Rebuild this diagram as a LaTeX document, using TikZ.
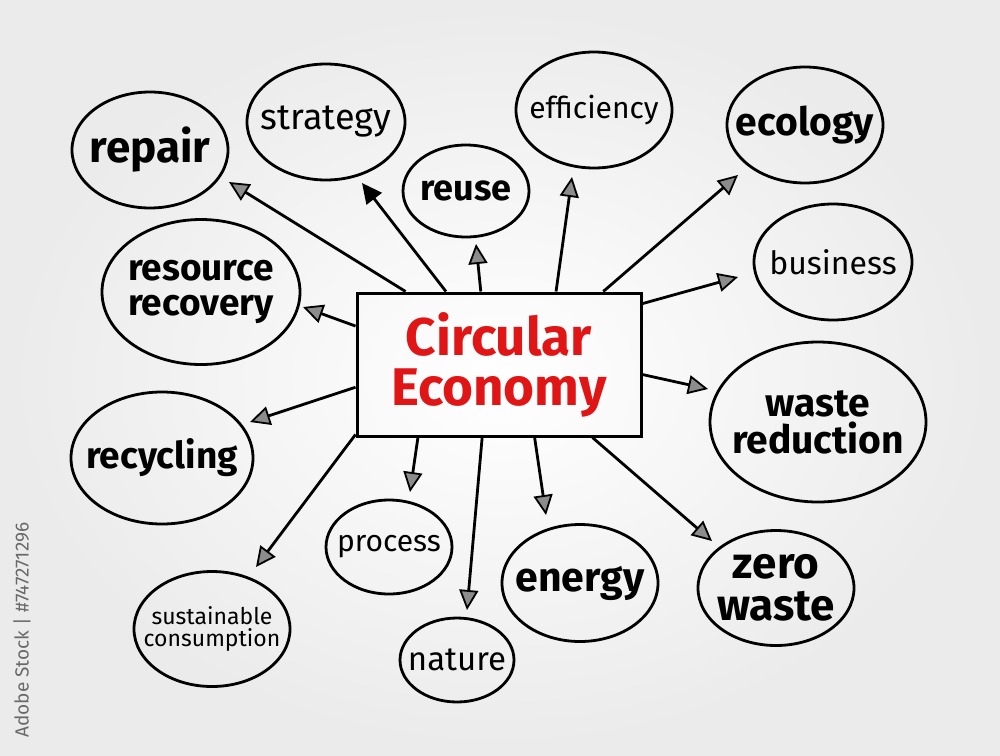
\documentclass[tikz,border=0pt]{standalone}
\usepackage{fontspec}
\setmainfont{Fira Sans}
\usepackage{tikz}
\usetikzlibrary{shapes.geometric,arrows.meta}
\definecolor{ecored}{RGB}{224,22,22}
\definecolor{stockgray}{RGB}{105,105,105}
\tikzset{
  bubble/.style={ellipse, draw, line width=2.8pt, inner sep=-30pt, align=center},
  fleche/.style={line width=2.8pt, -{Triangle[length=20pt, width=19pt, line width=1.8pt, fill=black!45]}},
  flechepleine/.style={line width=2.8pt, -{Triangle[length=20pt, width=19pt]}}
}
\newcommand{\taille}[1]{\fontsize{#1}{0.95\dimexpr #1pt\relax}\selectfont}
\begin{document}
\begin{tikzpicture}[x=1pt,y=-1pt]
\useasboundingbox (0,0) rectangle (1000,755);
\shade [inner color=white, outer color=black!8] (0,0) rectangle (1000,755);

% centre
\node [draw, line width=3pt, minimum width=284pt, minimum height=143pt, inner sep=0pt,
  align=center, text=ecored, font=\bfseries\fontsize{53}{50}\selectfont] (ce) at (499,364.5) {Circular\\Economy};

% bulles
\node [bubble, minimum width=156pt, minimum height=116pt, font=\bfseries\taille{44}] (repair) at (150,150) {repair};
\node [bubble, minimum width=158pt, minimum height=116pt, font=\taille{36}] (strategy) at (326,122) {strategy};
\node [bubble, minimum width=126pt, minimum height=92pt, font=\bfseries\taille{36}] (reuse) at (466,191) {reuse};
\node [bubble, minimum width=156pt, minimum height=116pt, font=\taille{30}] (efficiency) at (594,110) {efficiency};
\node [bubble, minimum width=156pt, minimum height=116pt, font=\bfseries\taille{39}] (ecology) at (805,125) {ecology};
\node [bubble, minimum width=158pt, minimum height=116pt, font=\taille{32}] (business) at (833,262) {business};
\node [bubble, minimum width=198pt, minimum height=145pt, font=\bfseries\taille{37}] (resource) at (201,292) {resource\\recovery};
\node [bubble, minimum width=216pt, minimum height=160pt, font=\bfseries\taille{39}] (wasteRed) at (818,422) {waste\\reduction};
\node [bubble, minimum width=182pt, minimum height=132pt, font=\bfseries\taille{37}] (recycling) at (162,458) {recycling};
\node [bubble, minimum width=156pt, minimum height=115pt, font=\taille{23}] (sustain) at (212,629) {sustainable\\consumption};
\node [bubble, minimum width=126pt, minimum height=94pt, font=\taille{30}] (process) at (389,547) {process};
\node [bubble, minimum width=114pt, minimum height=84pt, font=\taille{33}] (nature) at (457,660) {nature};
\node [bubble, minimum width=156pt, minimum height=117pt, font=\bfseries\taille{41}] (energy) at (580,583) {energy};
\node [bubble, minimum width=156pt, minimum height=115pt, font=\bfseries\taille{44}] (zeroWaste) at (776,588) {zero\\waste};

% pointes des fleches
\coordinate (tRepair) at (229,182);
\coordinate (tStrategy) at (362,183);
\coordinate (tReuse) at (476,244);
\coordinate (tEfficiency) at (572,177);
\coordinate (tEcology) at (738,175);
\coordinate (tBusiness) at (738,277);
\coordinate (tResource) at (303,307);
\coordinate (tWasteRed) at (708,389);
\coordinate (tRecycling) at (250,422);
\coordinate (tSustain) at (256,567);
\coordinate (tProcess) at (410,492);
\coordinate (tNature) at (467,610);
\coordinate (tEnergy) at (546,515);
\coordinate (tZeroWaste) at (712,541);

\draw [fleche] (ce.142.7) -- (tRepair);
\draw [flechepleine] (ce.126) -- (tStrategy);
\draw [fleche] (ce.104.9) -- (tReuse);
\draw [fleche] (ce.52.9) -- (tEfficiency);
\draw [fleche] (ce.35.8) -- (tEcology);
\draw [fleche] (ce.23.4) -- (tBusiness);
\draw [fleche] (ce.165.6) -- (tResource);
\draw [fleche] (ce.-4.2) -- (tWasteRed);
\draw [fleche] (ce.189) -- (tRecycling);
\draw [fleche] (ce.206) -- (tSustain);
\draw [fleche] (ce.222.9) -- (tProcess);
\draw [fleche] (ce.257.4) -- (tNature);
\draw [fleche] (ce.296.7) -- (tEnergy);
\draw [fleche] (ce.322.7) -- (tZeroWaste);

% filigrane
\node [rotate=90, text=stockgray, font=\fontsize{19}{19}\selectfont] (stock) at (22,630) {Adobe Stock | \#747271296};
\end{tikzpicture}
\end{document}
